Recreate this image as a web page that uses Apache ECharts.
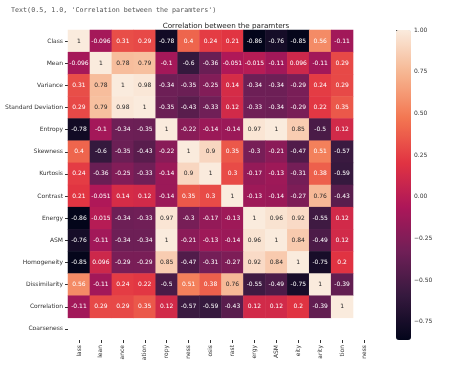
<!DOCTYPE html>
<html>
<head>
<meta charset="utf-8">
<script src="https://cdn.jsdelivr.net/npm/echarts@6/dist/echarts.min.js"></script>
<style>html,body{margin:0;padding:0;background:#fff}#c{width:474px;height:368px}</style>
</head>
<body>
<div id="c"></div>
<script>
const categories = ['Class','Mean','Variance','Standard Deviation','Entropy','Skewness','Kurtosis','Contrast','Energy','ASM','Homogeneity','Dissimilarity','Correlation','Coarseness'];
const xTickLabels = ['lass','lean','ance','ation','ropy','ness','osis','rast','ergy','ASM','eity','arity','tion','ness'];
const rowClass         = [1, -0.096, 0.31, 0.29, -0.78, 0.4, 0.24, 0.21, -0.86, -0.76, -0.85, 0.56, -0.11, null];
const rowMean          = [-0.096, 1, 0.78, 0.79, -0.1, -0.6, -0.36, -0.051, -0.015, -0.11, 0.096, -0.11, 0.29, null];
const rowVariance      = [0.31, 0.78, 1, 0.98, -0.34, -0.35, -0.25, 0.14, -0.34, -0.34, -0.29, 0.24, 0.29, null];
const rowStdDev        = [0.29, 0.79, 0.98, 1, -0.35, -0.43, -0.33, 0.12, -0.33, -0.34, -0.29, 0.22, 0.35, null];
const rowEntropy       = [-0.78, -0.1, -0.34, -0.35, 1, -0.22, -0.14, -0.14, 0.97, 1, 0.85, -0.5, 0.12, null];
const rowSkewness      = [0.4, -0.6, -0.35, -0.43, -0.22, 1, 0.9, 0.35, -0.3, -0.21, -0.47, 0.51, -0.57, null];
const rowKurtosis      = [0.24, -0.36, -0.25, -0.33, -0.14, 0.9, 1, 0.3, -0.17, -0.13, -0.31, 0.38, -0.59, null];
const rowContrast      = [0.21, -0.051, 0.14, 0.12, -0.14, 0.35, 0.3, 1, -0.13, -0.14, -0.27, 0.76, -0.43, null];
const rowEnergy        = [-0.86, -0.015, -0.34, -0.33, 0.97, -0.3, -0.17, -0.13, 1, 0.96, 0.92, -0.55, 0.12, null];
const rowASM           = [-0.76, -0.11, -0.34, -0.34, 1, -0.21, -0.13, -0.14, 0.96, 1, 0.84, -0.49, 0.12, null];
const rowHomogeneity   = [-0.85, 0.096, -0.29, -0.29, 0.85, -0.47, -0.31, -0.27, 0.92, 0.84, 1, -0.75, 0.2, null];
const rowDissimilarity = [0.56, -0.11, 0.24, 0.22, -0.5, 0.51, 0.38, 0.76, -0.55, -0.49, -0.75, 1, -0.39, null];
const rowCorrelation   = [-0.11, 0.29, 0.29, 0.35, 0.12, -0.57, -0.59, -0.43, 0.12, 0.12, 0.2, -0.39, 1, null];
const rowCoarseness    = [null, null, null, null, null, null, null, null, null, null, null, null, null, null];
const colorbarTicks = [1, 0.75, 0.5, 0.25, 0, -0.25, -0.5, -0.75];

const rows = [rowClass,rowMean,rowVariance,rowStdDev,rowEntropy,rowSkewness,rowKurtosis,rowContrast,rowEnergy,rowASM,rowHomogeneity,rowDissimilarity,rowCorrelation,rowCoarseness];
const vmin = -0.86, vmax = 1;
const data = [];
rows.forEach((r, i) => r.forEach((v, j) => {
  if (v === null) return;
  data.push({ value: [j, i, v], label: { color: v > 0.65 ? '#262626' : '#ffffff' } });
}));

const rocket = ['#03051A','#35193E','#701F57','#AD1759','#E13342','#F37651','#F6B48F','#FAEBDD'];
const font = 'DejaVu Sans';
const chart = echarts.init(document.getElementById('c'), null, { renderer: 'canvas' });
chart.setOption({
  animation: false,
  backgroundColor: '#ffffff',
  title: [
    { text: "Text(0.5, 1.0, 'Correlation between the paramters')", left: 6, top: 2,
      textStyle: { fontFamily: 'DejaVu Sans Mono', fontSize: 6.7, fontWeight: 'normal', color: '#555' } },
    { text: 'Correlation between the paramters', left: 221, top: 18, textAlign: 'center',
      textStyle: { fontFamily: font, fontSize: 7.2, fontWeight: 'normal', color: '#222' } }
  ],
  grid: [
    { left: 68, top: 30, width: 307, height: 310 },
    { left: 396, top: 30, width: 15, height: 310 }
  ],
  xAxis: [
    { type: 'category', gridIndex: 0, data: categories, position: 'bottom',
      axisLine: { show: false }, splitArea: { show: false },
      axisTick: { show: true, length: 3, alignWithLabel: true, lineStyle: { color: '#333' } },
      axisLabel: { rotate: 90, interval: 0, margin: 5, fontSize: 6, fontFamily: font, color: '#333',
        formatter: (v, idx) => xTickLabels[idx] } },
    { type: 'value', gridIndex: 1, show: false, min: 0, max: 1 }
  ],
  yAxis: [
    { type: 'category', gridIndex: 0, data: categories, inverse: true,
      axisLine: { show: false }, splitArea: { show: false },
      axisTick: { show: true, length: 3, alignWithLabel: true, lineStyle: { color: '#333' } },
      axisLabel: { interval: 0, margin: 5, fontSize: 6, fontFamily: font, color: '#333' } },
    { type: 'value', gridIndex: 1, position: 'right', min: vmin, max: vmax,
      axisLine: { show: false }, splitLine: { show: false },
      axisTick: { show: true, length: 3, customValues: colorbarTicks, lineStyle: { color: '#333' } },
      axisLabel: { margin: 3, fontSize: 6, fontFamily: font, color: '#333', customValues: colorbarTicks,
        formatter: v => (v < 0 ? '\u2212' : '') + Math.abs(v).toFixed(2) } }
  ],
  visualMap: {
    type: 'continuous', seriesIndex: 0, min: vmin, max: vmax, calculable: false,
    left: 396, top: 30, itemWidth: 15, itemHeight: 310, padding: 0,
    text: null, showLabel: false, hoverLink: false,
    inRange: { color: rocket }
  },
  series: [
    { type: 'heatmap', xAxisIndex: 0, yAxisIndex: 0, data: data,
      label: { show: true, fontSize: 6, fontFamily: font, formatter: p => String(p.value[2]) },
      emphasis: { disabled: true } },
    { type: 'line', xAxisIndex: 1, yAxisIndex: 1, data: [], silent: true }
  ]
});
</script>
</body>
</html>
